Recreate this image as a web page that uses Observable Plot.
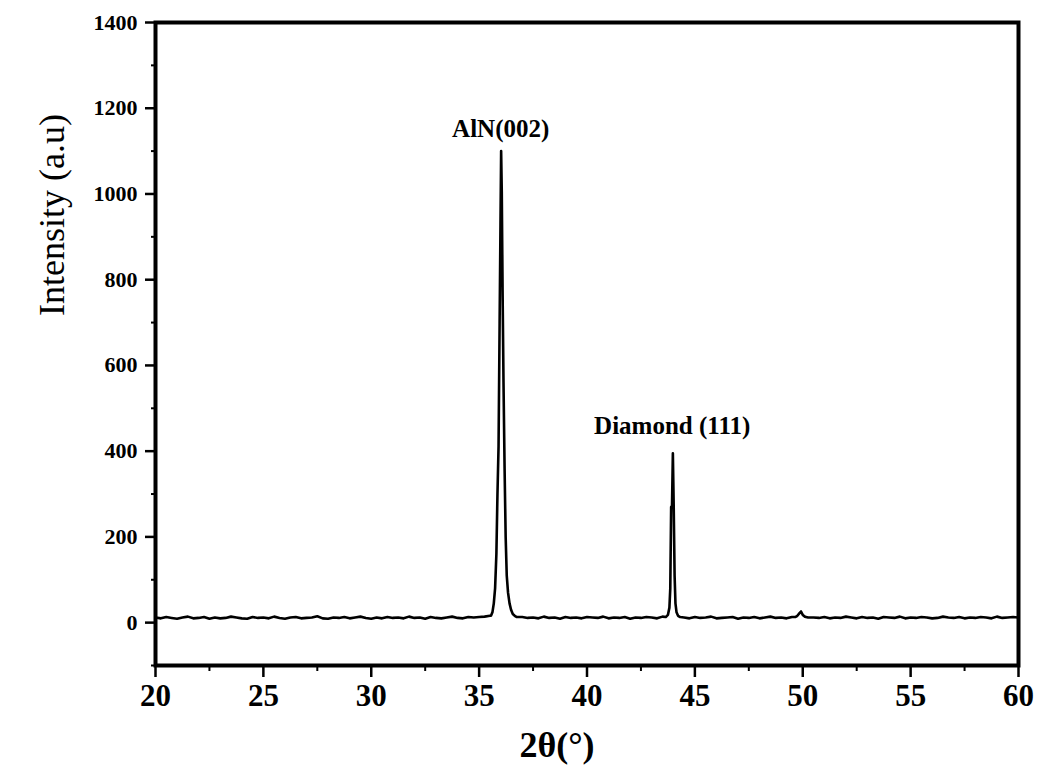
<!DOCTYPE html>
<html>
<head>
<meta charset="utf-8">
<script src="https://cdn.jsdelivr.net/npm/d3@7"></script>
<script src="https://cdn.jsdelivr.net/npm/@observablehq/plot@0.6"></script>
<style>
  html, body { margin: 0; padding: 0; background: #fff; }
  #chart svg { display: block; }
</style>
</head>
<body>
<div id="chart"></div>
<script>
// 2θ positions (degrees)
const twoTheta = [
  20,20.25,20.5,20.75,21,21.25,21.5,21.75,22,22.25,22.5,22.75,
  23,23.25,23.5,23.75,24,24.25,24.5,24.75,25,25.25,25.5,25.75,
  26,26.25,26.5,26.75,27,27.25,27.5,27.75,28,28.25,28.5,28.75,
  29,29.25,29.5,29.75,30,30.25,30.5,30.75,31,31.25,31.5,31.75,
  32,32.25,32.5,32.75,33,33.25,33.5,33.75,34,34.25,34.5,34.75,
  35,35.25,35.5,
  35.55,35.62,35.68,35.74,35.8,35.85,35.9,35.95,35.99,36.02,36.05,36.09,36.13,36.18,36.23,36.28,36.34,36.41,36.48,36.56,36.65,36.75,
  37,37.25,37.5,37.75,38,38.25,38.5,38.75,39,39.25,39.5,39.75,40,40.25,40.5,40.75,41,41.25,41.5,41.75,42,42.25,42.5,42.75,43,43.25,43.5,
  43.65,43.75,43.82,43.86,43.9,43.94,43.98,44.02,44.06,44.1,44.15,44.22,44.32,
  44.5,44.75,45,45.25,45.5,45.75,46,46.25,46.5,46.75,47,47.25,47.5,47.75,48,48.25,48.5,48.75,49,49.25,49.5,
  49.65,49.75,49.85,49.92,50,50.1,50.25,
  50.5,50.75,51,51.25,51.5,51.75,52,52.25,52.5,52.75,
  53,53.25,53.5,53.75,54,54.25,54.5,54.75,55,55.25,
  55.5,55.75,56,56.25,56.5,56.75,57,57.25,57.5,57.75,
  58,58.25,58.5,58.75,59,59.25,59.5,59.75,60
];
// Intensity (a.u.)
const intensity = [
  12,10,13,11,9,12,14,10,11,13,9,12,
  10,11,14,12,10,9,13,11,12,10,14,11,
  9,12,13,10,11,12,15,10,9,12,11,13,
  10,12,14,11,9,12,10,13,11,12,10,14,
  11,12,9,13,11,10,12,14,11,10,13,12,
  13,14,16,
  16,25,45,80,160,300,410,700,930,1100,1005,760,560,360,200,110,70,45,30,20,16,13,
  13,11,12,10,14,11,12,9,13,11,12,10,13,12,11,14,10,12,11,13,9,12,11,13,12,10,14,
  13,18,35,80,270,272,395,268,110,45,24,16,13,
  12,10,13,11,12,14,10,11,12,13,9,12,11,13,10,12,14,11,12,10,13,
  13,16,22,26,18,14,12,
  12,11,13,10,12,11,14,12,10,13,
  11,12,9,13,12,11,14,10,12,11,
  13,12,10,11,14,12,11,13,10,12,
  11,13,12,10,14,11,12,13,12
];
const peakLabels = ["AlN(002)", "Diamond (111)"];
const peakLabelX = [36.0, 43.95];
const peakLabelY = [1132, 440];

const xMajorTicks = [20,25,30,35,40,45,50,55,60];
const xMinorTicks = [22.5,27.5,32.5,37.5,42.5,47.5,52.5,57.5];
const yMajorTicks = [0,200,400,600,800,1000,1200,1400];
const yMinorTicks = [-100,100,300,500,700,900,1100,1300];

const xTitle = "2θ(°)";
const yTitle = "Intensity (a.u)";

const scan = twoTheta.map((t, i) => ({t, v: intensity[i]}));
const labels = peakLabels.map((s, i) => ({s, x: peakLabelX[i], y: peakLabelY[i]}));

const font = "'Liberation Serif', 'Times New Roman', 'DejaVu Serif', serif";

const chart = Plot.plot({
  width: 1045,
  height: 773,
  marginLeft: 155,
  marginRight: 27,
  marginTop: 22,
  marginBottom: 108,
  style: {fontFamily: font, color: "#000", background: "#fff", overflow: "visible"},
  x: {domain: [20, 60]},
  y: {domain: [-100, 1400]},
  marks: [
    Plot.line(scan, {x: "t", y: "v", stroke: "#000", strokeWidth: 2.6}),
    Plot.frame({stroke: "#000", strokeWidth: 4}),
    Plot.axisY({ticks: yMajorTicks, tickSize: 10, tickPadding: 8, strokeWidth: 2.5, fontSize: 22, fontWeight: "bold", label: null, tickFormat: d => String(d)}),
    Plot.axisY({ticks: yMinorTicks, tickSize: 4, strokeWidth: 2, text: null, label: null}),
    Plot.axisX({ticks: xMajorTicks, tickSize: 12, tickPadding: 6, strokeWidth: 2.5, fontSize: 31, fontWeight: "bold", label: null, tickFormat: d => String(d)}),
    Plot.axisX({ticks: xMinorTicks, tickSize: 6, strokeWidth: 2, text: null, label: null}),
    Plot.text(labels, {x: "x", y: "y", text: "s", lineAnchor: "bottom", fontSize: 25, fontWeight: "bold", fill: "#000"}),
    Plot.text([yTitle], {frameAnchor: "left", dx: -103, dy: -28, rotate: -90, fontSize: 36, fill: "#000"}),
    Plot.text([xTitle], {frameAnchor: "bottom", dx: -30, dy: 80, lineAnchor: "middle", fontSize: 36, fontWeight: "bold", fill: "#000"})
  ]
});
document.getElementById("chart").appendChild(chart);
</script>
</body>
</html>
